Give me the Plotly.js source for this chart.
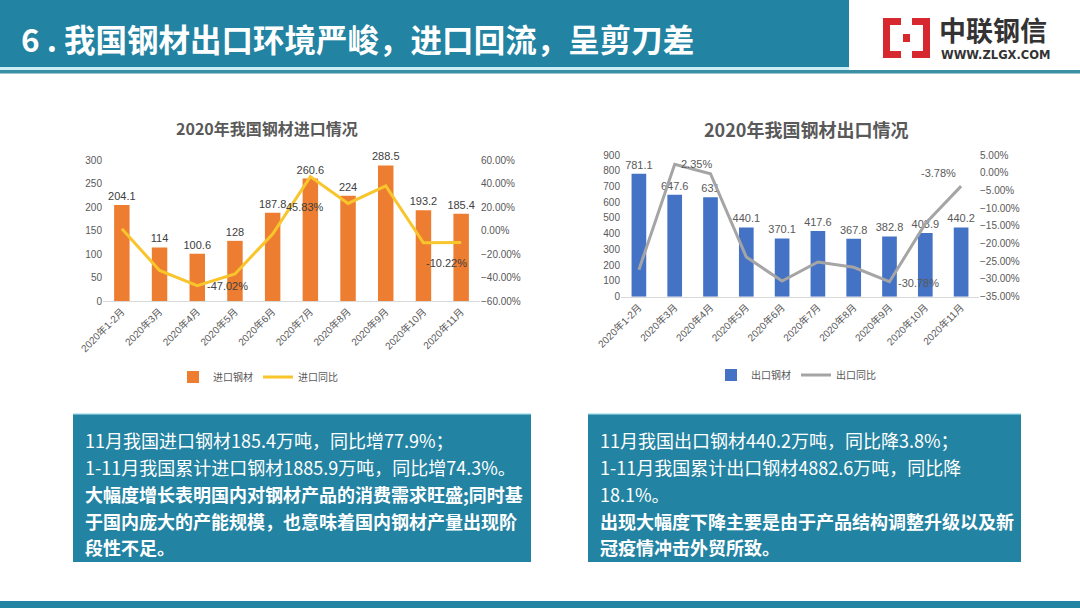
<!DOCTYPE html>
<html>
<head>
<meta charset="utf-8">
<script src="https://cdn.plot.ly/plotly-3.0.1.min.js"></script>
<style>
  html, body { margin: 0; padding: 0; background: #ffffff; }
  #chart { width: 1080px; height: 608px; }
</style>
</head>
<body>
<div id="chart"></div>
<script>
// Monthly steel trade, 2020 (万吨 / 同比 %)
const months = ['2020年1-2月', '2020年3月', '2020年4月', '2020年5月', '2020年6月',
                '2020年7月', '2020年8月', '2020年9月', '2020年10月', '2020年11月'];
const importVolume = [204.1, 114, 100.6, 128, 187.8, 260.6, 224, 288.5, 193.2, 185.4];
const importYoY = [1.5, -34.0, -47.02, -37.0, -3.0, 45.83, 23.0, 38.0, -10.5, -10.22];
const exportVolume = [781.1, 647.6, 631, 440.1, 370.1, 417.6, 367.8, 382.8, 403.9, 440.2];
const exportYoY = [-27.4, 2.35, -0.3, -23.8, -30.6, -25.2, -26.7, -30.78, -14.4, -3.78];

// YoY points that carry a value label, with the label's pixel offset from the point
const importYoYLabels = [{i: 2, dx: 30, dy: 0}, {i: 5, dx: -5, dy: -30}, {i: 9, dx: -15, dy: -20}];
const exportYoYLabels = [{i: 1, dx: 22, dy: 0}, {i: 7, dx: 29, dy: -1}, {i: 9, dx: -23, dy: 13}];

const leftNotes = [
  '11月我国进口钢材185.4万吨，同比增77.9%；',
  '1-11月我国累计进口钢材1885.9万吨，同比增74.3%。',
  '<b>大幅度增长表明国内对钢材产品的消费需求旺盛;同时基</b>',
  '<b>于国内庞大的产能规模，也意味着国内钢材产量出现阶</b>',
  '<b>段性不足。</b>'
];
const rightNotes = [
  '11月我国出口钢材440.2万吨，同比降3.8%；',
  '1-11月我国累计出口钢材4882.6万吨，同比降',
  '18.1%。',
  '<b>出现大幅度下降主要是由于产品结构调整升级以及新</b>',
  '<b>冠疫情冲击外贸所致。</b>'
];

const W = 1080, H = 608;
const px = x => x / W;
const py = y => 1 - y / H;

const TEAL = '#2383a2';
const RED = '#D7282F';
const CJK = '"Noto Sans CJK SC", "Noto Sans", sans-serif';
const NUM = '"Liberation Sans", "Noto Sans CJK SC", sans-serif';
const tickFont = {family: NUM, size: 10, color: '#595959'};

const traces = [
  {
    type: 'bar', name: '进口钢材', x: months, y: importVolume,
    xaxis: 'x', yaxis: 'y', legend: 'legend',
    marker: {color: '#ED7D31'},
    text: importVolume.map(String), textposition: 'outside', constraintext: 'none',
    textfont: {family: NUM, size: 11, color: '#404040'}, cliponaxis: false
  },
  {
    type: 'scatter', mode: 'lines', name: '进口同比', x: months, y: importYoY,
    xaxis: 'x', yaxis: 'y2', legend: 'legend',
    line: {color: '#F8C52C', width: 3}
  },
  {
    type: 'bar', name: '出口钢材', x: months, y: exportVolume,
    xaxis: 'x2', yaxis: 'y3', legend: 'legend2',
    marker: {color: '#4472C4'},
    text: exportVolume.map(String), textposition: 'outside', constraintext: 'none',
    textfont: {family: NUM, size: 11, color: '#595959'}, cliponaxis: false
  },
  {
    type: 'scatter', mode: 'lines', name: '出口同比', x: months, y: exportYoY,
    xaxis: 'x2', yaxis: 'y4', legend: 'legend2',
    line: {color: '#A5A5A5', width: 3}
  }
];

const catAxis = domain => ({
  type: 'category', domain: domain, showline: true, linecolor: '#d9d9d9', linewidth: 1,
  ticks: '', tickangle: -45, tickfont: {family: NUM, size: 10, color: '#595959'},
  showgrid: false, zeroline: false, fixedrange: true
});
const valAxis = extra => Object.assign({
  showgrid: false, zeroline: false, showline: false, ticks: '',
  tickfont: tickFont, fixedrange: true
}, extra);

function rect(x0, y0, x1, y1, color) {
  return {type: 'rect', xref: 'paper', yref: 'paper', x0: px(x0), x1: px(x1),
          y0: py(y1), y1: py(y0), fillcolor: color, line: {width: 0}, layer: 'below'};
}

const shapes = [
  // header band and rules
  rect(0, 0, 849, 67, TEAL),
  rect(0, 67, 849, 70, '#cdeef4'),
  rect(0, 70, 1080, 73.5, '#3a8fa2'),
  // note boxes
  rect(73, 414, 531, 562, TEAL),
  rect(588, 414, 1021, 562, TEAL),
  rect(73, 413, 531, 414.5, '#bfe8f1'),
  rect(588, 413, 1021, 414.5, '#bfe8f1'),
  // footer band
  rect(0, 601, 1080, 608, TEAL),
  // logo mark
  rect(883, 18, 901, 25, RED),
  rect(883, 18, 890, 58, RED),
  rect(883, 51, 901, 58, RED),
  rect(912, 18, 930, 25, RED),
  rect(923, 18, 930, 58, RED),
  rect(912, 51, 930, 58, RED),
  rect(903, 34, 910, 42, RED)
];

function note(text, x, y, size, color, extra) {
  return Object.assign({
    text: text, xref: 'paper', yref: 'paper', x: px(x), y: py(y),
    xanchor: 'left', yanchor: 'middle', showarrow: false,
    font: {family: CJK, size: size, color: color}
  }, extra || {});
}

// percentage labels on the YoY lines, anchored to the data point
function yoyLabels(values, picks, xref, yref, color) {
  return picks.map(p => ({
    text: values[p.i].toFixed(2) + '%', x: months[p.i], y: values[p.i],
    xref: xref, yref: yref, xshift: p.dx, yshift: p.dy,
    xanchor: 'center', yanchor: 'middle', showarrow: false,
    font: {family: NUM, size: 11, color: color}
  }));
}

const annotations = [
  note('<b>6 . 我国钢材出口环境严峻，进口回流，呈剪刀差</b>', 19, 38, 31.5, '#ffffff'),
  note('<b>中联钢信</b>', 938, 29, 27, '#333333', {borderpad: 0}),
  note('<b>WWW.ZLGX.COM</b>', 940, 54.5, 11.5, '#333333',
       {borderpad: 0, font: {family: '"DejaVu Sans", sans-serif', size: 11.5, color: '#333333'}}),
  note('<b>2020年我国钢材进口情况</b>', 267, 128, 16, '#595959', {xanchor: 'center'}),
  note('<b>2020年我国钢材出口情况</b>', 806, 129, 18, '#595959', {xanchor: 'center'})
].concat(
  yoyLabels(importYoY, importYoYLabels, 'x', 'y2', '#404040'),
  yoyLabels(exportYoY, exportYoYLabels, 'x2', 'y4', '#595959')
);
const lineY = [440, 467, 494, 521, 547];
leftNotes.forEach((t, i) => annotations.push(note(t, 83, lineY[i], 18, '#ffffff')));
rightNotes.forEach((t, i) => annotations.push(note(t, 598, lineY[i], 18, '#ffffff')));

const layout = {
  width: W, height: H,
  margin: {l: 0, r: 0, t: 0, b: 0, pad: 0},
  paper_bgcolor: '#ffffff', plot_bgcolor: 'rgba(0,0,0,0)',
  font: {family: CJK, color: '#595959'},
  bargap: 0.59,
  hovermode: false,
  xaxis: catAxis([px(103), px(480)]),
  yaxis: valAxis({domain: [py(301), py(160)], range: [0, 300], dtick: 50, anchor: 'x'}),
  yaxis2: valAxis({overlaying: 'y', side: 'right', anchor: 'x', range: [-60, 60], dtick: 20,
                   tickformat: '.2f', ticksuffix: '%'}),
  xaxis2: Object.assign(catAxis([px(621), px(979)]), {anchor: 'y3'}),
  yaxis3: valAxis({domain: [py(296.7), py(155)], range: [0, 900], dtick: 100, anchor: 'x2'}),
  yaxis4: valAxis({overlaying: 'y3', side: 'right', anchor: 'x2', range: [-35, 5], dtick: 5,
                   tickformat: '.2f', ticksuffix: '%'}),
  legend: {orientation: 'h', x: px(258), xanchor: 'center', y: py(377), yanchor: 'middle',
           font: {family: CJK, size: 10, color: '#595959'}, bgcolor: 'rgba(0,0,0,0)'},
  legend2: {orientation: 'h', x: px(796), xanchor: 'center', y: py(375), yanchor: 'middle',
            font: {family: CJK, size: 10, color: '#595959'}, bgcolor: 'rgba(0,0,0,0)'},
  shapes: shapes,
  annotations: annotations
};

Plotly.newPlot('chart', traces, layout, {staticPlot: true, displayModeBar: false});
</script>
</body>
</html>
